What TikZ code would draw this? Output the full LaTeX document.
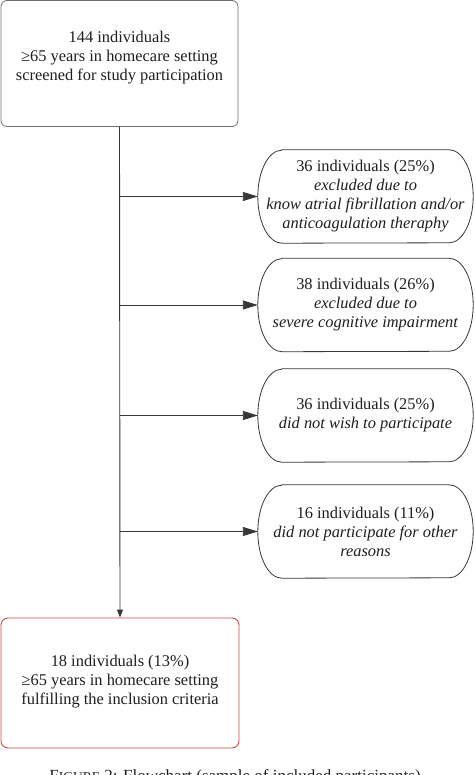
\documentclass[tikz,border=0pt]{standalone}
\usepackage{fontspec}
\setmainfont{Liberation Serif}
\usetikzlibrary{arrows.meta}
\definecolor{boxgray}{RGB}{110,110,110}
\definecolor{boxred}{RGB}{205,75,75}
\definecolor{lineclr}{RGB}{55,55,55}
\definecolor{txtclr}{RGB}{30,30,30}
\newcommand{\stadiumbox}[1]{%
  \draw[stadline] ([xshift=24pt]#1.north west) -- ([xshift=-24pt]#1.north east)
    arc[start angle=90,end angle=-90,x radius=24pt,y radius=46.5pt]
    -- ([xshift=24pt]#1.south west)
    arc[start angle=270,end angle=90,x radius=24pt,y radius=46.5pt] -- cycle;}
\begin{document}
\begin{tikzpicture}[x=1pt,y=1pt,
  txt/.style={font=\fontsize{16.4}{19}\selectfont, text=txtclr, align=center, inner sep=0pt},
  sqbox/.style={draw=boxgray, line width=0.8pt, rounded corners=6pt, inner sep=0pt},
  redbox/.style={draw=boxred, line width=0.9pt, rounded corners=7pt, inner sep=0pt},
  stadnode/.style={minimum width=215pt, minimum height=93pt, inner sep=0pt},
  stadline/.style={draw=lineclr, line width=0.8pt},
  conn/.style={draw=lineclr, line width=0.9pt},
  bigtip/.style={-{Triangle[length=15pt,width=9pt]}},
  smalltip/.style={-{Triangle[length=8pt,width=6pt]}}]
\useasboundingbox (0,0) rectangle (474,-775);

% top box
\node[sqbox, minimum width=237pt, minimum height=126pt] (top) at (119.5,-63.5) {};
\node[txt] (toptxt) at (119.5,-58) {144 individuals\\≥65 years in homecare setting\\screened for study participation};

% bottom box
\node[redbox, minimum width=238pt, minimum height=130pt] (bot) at (120,-683) {};
\node[txt] (bottxt) at (120,-682) {18 individuals (13\%)\\≥65 years in homecare setting\\fulfilling the inclusion criteria};

% exclusion boxes
\node[stadnode, txt] (e1) at (365.5,-196.5) {36 individuals (25\%)\\\textit{excluded due to}\\\textit{know atrial fibrillation and/or}\\\textit{anticoagulation theraphy}};
\node[stadnode, txt] (e2) at (365.5,-305) {38 individuals (26\%)\\\textit{excluded due to}\\\textit{severe cognitive impairment}};
\node[stadnode, txt] (e3) at (365.5,-415.5) {36 individuals (25\%)\\\textit{did not wish to participate}};
\node[stadnode, txt] (e4) at (365.5,-531.5) {16 individuals (11\%)\\\textit{did not participate for other}\\\textit{reasons}};
\stadiumbox{e1}
\stadiumbox{e2}
\stadiumbox{e3}
\stadiumbox{e4}

% main vertical connector
\draw[conn, smalltip] (top.south) -- (bot.north);

% branch points
\coordinate (j1) at (top.south |- e1.west);
\coordinate (j2) at (top.south |- e2.west);
\coordinate (j3) at (top.south |- e3.west);
\coordinate (j4) at (top.south |- e4.west);
\draw[conn, bigtip] (j1) -- (e1.west);
\draw[conn, bigtip] (j2) -- (e2.west);
\draw[conn, bigtip] (j3) -- (e3.west);
\draw[conn, bigtip] (j4) -- (e4.west);

% caption (cut off at the bottom edge, as in the reference)
\node[font=\fontsize{17}{20}\selectfont, text=txtclr, anchor=base] (cap) at (235,-781)
  {F{\fontsize{13.5}{16}\selectfont IGURE} 2: Flowchart (sample of included participants)};
\end{tikzpicture}
\end{document}
